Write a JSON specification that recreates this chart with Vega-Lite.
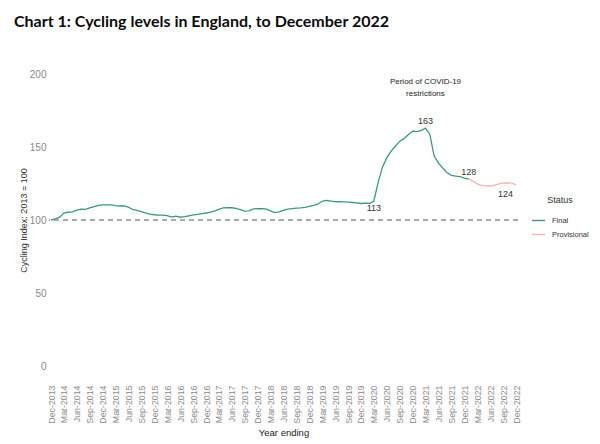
{
  "$schema": "https://vega.github.io/schema/vega-lite/v6.json",
  "autosize": {"type": "none"},
  "padding": {"left": 49, "top": 74, "right": 82, "bottom": 78},
  "width": 469,
  "height": 292,
  "background": "white",
  "title": {
    "text": "Chart 1: Cycling levels in England, to December 2022",
    "anchor": "start",
    "frame": "group",
    "dx": -35,
    "offset": 26,
    "baseline": "alphabetic",
    "font": "Lato",
    "fontSize": 16,
    "fontWeight": "bold",
    "color": "#0b0c0c"
  },
  "config": {
    "view": {"stroke": null},
    "font": "Liberation Sans"
  },
  "datasets": {
    "cycling": [
      {"date": "2013-12-01", "index": 100, "status": "Final"},
      {"date": "2014-01-01", "index": 100.8, "status": "Final"},
      {"date": "2014-02-01", "index": 102, "status": "Final"},
      {"date": "2014-03-01", "index": 104.8, "status": "Final"},
      {"date": "2014-04-01", "index": 105.3, "status": "Final"},
      {"date": "2014-05-01", "index": 105.5, "status": "Final"},
      {"date": "2014-06-01", "index": 106.7, "status": "Final"},
      {"date": "2014-07-01", "index": 107.5, "status": "Final"},
      {"date": "2014-08-01", "index": 107.3, "status": "Final"},
      {"date": "2014-09-01", "index": 108.3, "status": "Final"},
      {"date": "2014-10-01", "index": 109.2, "status": "Final"},
      {"date": "2014-11-01", "index": 110, "status": "Final"},
      {"date": "2014-12-01", "index": 110.4, "status": "Final"},
      {"date": "2015-01-01", "index": 110.4, "status": "Final"},
      {"date": "2015-02-01", "index": 110.3, "status": "Final"},
      {"date": "2015-03-01", "index": 109.8, "status": "Final"},
      {"date": "2015-04-01", "index": 109.6, "status": "Final"},
      {"date": "2015-05-01", "index": 109.6, "status": "Final"},
      {"date": "2015-06-01", "index": 108.8, "status": "Final"},
      {"date": "2015-07-01", "index": 107.2, "status": "Final"},
      {"date": "2015-08-01", "index": 106.6, "status": "Final"},
      {"date": "2015-09-01", "index": 105.8, "status": "Final"},
      {"date": "2015-10-01", "index": 104.8, "status": "Final"},
      {"date": "2015-11-01", "index": 104, "status": "Final"},
      {"date": "2015-12-01", "index": 103.6, "status": "Final"},
      {"date": "2016-01-01", "index": 103.4, "status": "Final"},
      {"date": "2016-02-01", "index": 103.3, "status": "Final"},
      {"date": "2016-03-01", "index": 103, "status": "Final"},
      {"date": "2016-04-01", "index": 102, "status": "Final"},
      {"date": "2016-05-01", "index": 102.7, "status": "Final"},
      {"date": "2016-06-01", "index": 101.9, "status": "Final"},
      {"date": "2016-07-01", "index": 102.3, "status": "Final"},
      {"date": "2016-08-01", "index": 102.9, "status": "Final"},
      {"date": "2016-09-01", "index": 103.5, "status": "Final"},
      {"date": "2016-10-01", "index": 103.9, "status": "Final"},
      {"date": "2016-11-01", "index": 104.4, "status": "Final"},
      {"date": "2016-12-01", "index": 104.8, "status": "Final"},
      {"date": "2017-01-01", "index": 105.4, "status": "Final"},
      {"date": "2017-02-01", "index": 106.3, "status": "Final"},
      {"date": "2017-03-01", "index": 107.3, "status": "Final"},
      {"date": "2017-04-01", "index": 108.3, "status": "Final"},
      {"date": "2017-05-01", "index": 108.4, "status": "Final"},
      {"date": "2017-06-01", "index": 108.4, "status": "Final"},
      {"date": "2017-07-01", "index": 108, "status": "Final"},
      {"date": "2017-08-01", "index": 107.1, "status": "Final"},
      {"date": "2017-09-01", "index": 106.1, "status": "Final"},
      {"date": "2017-10-01", "index": 106.2, "status": "Final"},
      {"date": "2017-11-01", "index": 107.6, "status": "Final"},
      {"date": "2017-12-01", "index": 107.7, "status": "Final"},
      {"date": "2018-01-01", "index": 107.7, "status": "Final"},
      {"date": "2018-02-01", "index": 107.4, "status": "Final"},
      {"date": "2018-03-01", "index": 106.2, "status": "Final"},
      {"date": "2018-04-01", "index": 105.1, "status": "Final"},
      {"date": "2018-05-01", "index": 105.5, "status": "Final"},
      {"date": "2018-06-01", "index": 106.6, "status": "Final"},
      {"date": "2018-07-01", "index": 107.4, "status": "Final"},
      {"date": "2018-08-01", "index": 107.8, "status": "Final"},
      {"date": "2018-09-01", "index": 108.1, "status": "Final"},
      {"date": "2018-10-01", "index": 108.3, "status": "Final"},
      {"date": "2018-11-01", "index": 108.7, "status": "Final"},
      {"date": "2018-12-01", "index": 109.4, "status": "Final"},
      {"date": "2019-01-01", "index": 110, "status": "Final"},
      {"date": "2019-02-01", "index": 111, "status": "Final"},
      {"date": "2019-03-01", "index": 112.8, "status": "Final"},
      {"date": "2019-04-01", "index": 113.4, "status": "Final"},
      {"date": "2019-05-01", "index": 113, "status": "Final"},
      {"date": "2019-06-01", "index": 112.6, "status": "Final"},
      {"date": "2019-07-01", "index": 112.5, "status": "Final"},
      {"date": "2019-08-01", "index": 112.4, "status": "Final"},
      {"date": "2019-09-01", "index": 112.2, "status": "Final"},
      {"date": "2019-10-01", "index": 112, "status": "Final"},
      {"date": "2019-11-01", "index": 111.7, "status": "Final"},
      {"date": "2019-12-01", "index": 111.3, "status": "Final"},
      {"date": "2020-01-01", "index": 111.5, "status": "Final"},
      {"date": "2020-02-01", "index": 111.3, "status": "Final"},
      {"date": "2020-03-01", "index": 113, "status": "Final"},
      {"date": "2020-04-01", "index": 126, "status": "Final"},
      {"date": "2020-05-01", "index": 136.2, "status": "Final"},
      {"date": "2020-06-01", "index": 142.7, "status": "Final"},
      {"date": "2020-07-01", "index": 147.2, "status": "Final"},
      {"date": "2020-08-01", "index": 150.7, "status": "Final"},
      {"date": "2020-09-01", "index": 154, "status": "Final"},
      {"date": "2020-10-01", "index": 155.9, "status": "Final"},
      {"date": "2020-11-01", "index": 158.5, "status": "Final"},
      {"date": "2020-12-01", "index": 160.9, "status": "Final"},
      {"date": "2021-01-01", "index": 160.6, "status": "Final"},
      {"date": "2021-02-01", "index": 161.4, "status": "Final"},
      {"date": "2021-03-01", "index": 163, "status": "Final"},
      {"date": "2021-04-01", "index": 158.6, "status": "Final"},
      {"date": "2021-05-01", "index": 144, "status": "Final"},
      {"date": "2021-06-01", "index": 139, "status": "Final"},
      {"date": "2021-07-01", "index": 135.6, "status": "Final"},
      {"date": "2021-08-01", "index": 132.3, "status": "Final"},
      {"date": "2021-09-01", "index": 130.6, "status": "Final"},
      {"date": "2021-10-01", "index": 130, "status": "Final"},
      {"date": "2021-11-01", "index": 129.7, "status": "Final"},
      {"date": "2021-12-01", "index": 128.6, "status": "Final"},
      {"date": "2022-01-01", "index": 128, "status": "Final"},
      {"date": "2022-01-01", "index": 128, "status": "Provisional"},
      {"date": "2022-02-01", "index": 126.5, "status": "Provisional"},
      {"date": "2022-03-01", "index": 124.8, "status": "Provisional"},
      {"date": "2022-04-01", "index": 123.7, "status": "Provisional"},
      {"date": "2022-05-01", "index": 123.4, "status": "Provisional"},
      {"date": "2022-06-01", "index": 123.3, "status": "Provisional"},
      {"date": "2022-07-01", "index": 123.8, "status": "Provisional"},
      {"date": "2022-08-01", "index": 124.8, "status": "Provisional"},
      {"date": "2022-09-01", "index": 125.2, "status": "Provisional"},
      {"date": "2022-10-01", "index": 125.5, "status": "Provisional"},
      {"date": "2022-11-01", "index": 125.2, "status": "Provisional"},
      {"date": "2022-12-01", "index": 124, "status": "Provisional"}
    ],
    "notes": [
      {"date": "2021-03-01", "index": 197, "note": "Period of COVID-19\nrestrictions"}
    ]
  },
  "data": {"name": "cycling"},
  "layer": [
    {
      "mark": {"type": "rule", "color": "#ababab", "strokeDash": [5, 4], "strokeWidth": 0.9},
      "encoding": {"y": {"datum": 100, "type": "quantitative"}}
    },
    {
      "mark": {"type": "line", "strokeWidth": 1.3},
      "encoding": {
        "x": {
          "field": "date",
          "type": "temporal",
          "scale": {"type": "utc", "nice": false, "padding": 2},
          "axis": {
            "title": "Year ending",
            "tickCount": {"interval": "month", "step": 1},
            "labelExpr": "utcmonth(datum.value) % 3 === 2 ? utcFormat(datum.value, '%b-%Y') : ''",
            "labelAngle": -90,
            "labelAlign": "right",
            "labelBaseline": "middle",
            "labelPadding": 19,
            "labelFontSize": 8.8,
            "labelColor": "#8a8a8a",
            "labelOverlap": false,
            "labelBound": false,
            "labelFlush": false,
            "ticks": false,
            "domain": false,
            "grid": false,
            "titleFontSize": 9.5,
            "titleFontWeight": "normal",
            "titleColor": "#222222",
            "titleBaseline": "middle",
            "titleY": 66
          }
        },
        "y": {
          "field": "index",
          "type": "quantitative",
          "scale": {"domain": [0, 200], "nice": false},
          "axis": {
            "title": "Cycling Index: 2013 = 100",
            "values": [0, 50, 100, 150, 200],
            "ticks": false,
            "domain": false,
            "labelPadding": 3,
            "labelFontSize": 10,
            "labelColor": "#8a8a8a",
            "gridColor": "#ebebeb",
            "gridWidth": 0.8,
            "titleFontSize": 9,
            "titleFontWeight": "normal",
            "titleColor": "#333333",
            "titleAngle": -90,
            "titleAlign": "center",
            "titleBaseline": "middle",
            "titleX": -26,
            "titleY": 146
          }
        },
        "color": {
          "field": "status",
          "type": "nominal",
          "scale": {"domain": ["Final", "Provisional"], "range": ["#3a9a77", "#f5b3b3"]},
          "legend": {
            "title": "Status",
            "orient": "none",
            "direction": "vertical",
            "legendX": 482,
            "legendY": 122,
            "titleAnchor": "middle",
            "titleFontWeight": "normal",
            "titleFontSize": 9,
            "titleColor": "#333333",
            "titlePadding": 8,
            "labelFontSize": 7.5,
            "labelColor": "#333333",
            "labelOffset": 6,
            "symbolType": "stroke",
            "symbolSize": 169,
            "symbolStrokeWidth": 1.4,
            "rowPadding": 3
          }
        }
      }
    },
    {
      "transform": [{"filter": "datum.status === 'Final' && utcyear(datum.date) === 2020 && utcmonth(datum.date) === 2"}],
      "mark": {"type": "text", "fontSize": 9, "color": "#333333", "baseline": "middle", "dy": 7},
      "encoding": {
        "x": {"field": "date", "type": "temporal"},
        "y": {"field": "index", "type": "quantitative"},
        "text": {"field": "index", "type": "quantitative", "format": ".0f"}
      }
    },
    {
      "transform": [{"filter": "datum.status === 'Final' && ((utcyear(datum.date) === 2021 && utcmonth(datum.date) === 2) || (utcyear(datum.date) === 2022 && utcmonth(datum.date) === 0))"}],
      "mark": {"type": "text", "fontSize": 9, "color": "#333333", "baseline": "middle", "dy": -7},
      "encoding": {
        "x": {"field": "date", "type": "temporal"},
        "y": {"field": "index", "type": "quantitative"},
        "text": {"field": "index", "type": "quantitative", "format": ".0f"}
      }
    },
    {
      "transform": [{"filter": "datum.status === 'Provisional' && utcyear(datum.date) === 2022 && utcmonth(datum.date) === 11"}],
      "mark": {"type": "text", "fontSize": 9, "color": "#333333", "align": "right", "baseline": "middle", "dx": -3, "dy": 9},
      "encoding": {
        "x": {"field": "date", "type": "temporal"},
        "y": {"field": "index", "type": "quantitative"},
        "text": {"field": "index", "type": "quantitative", "format": ".0f"}
      }
    },
    {
      "data": {"name": "notes"},
      "mark": {"type": "text", "fontSize": 8, "color": "#222222", "baseline": "top", "align": "center", "lineBreak": "\n", "lineHeight": 12},
      "encoding": {
        "x": {"field": "date", "type": "temporal"},
        "y": {"field": "index", "type": "quantitative"},
        "text": {"field": "note", "type": "nominal"}
      }
    }
  ]
}
